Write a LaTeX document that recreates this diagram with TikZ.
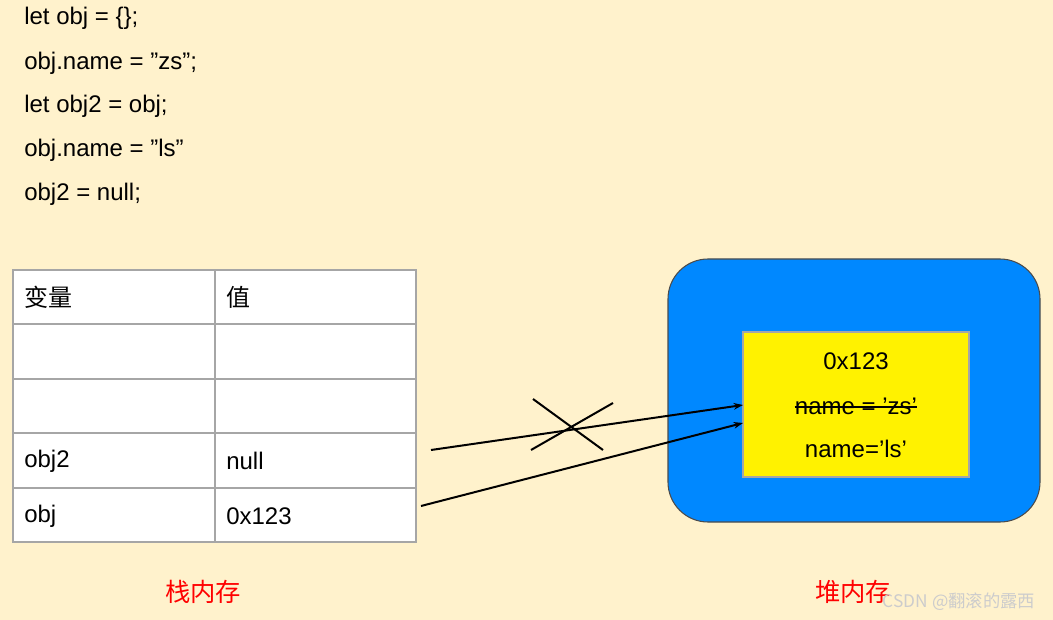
\documentclass[tikz,border=0pt]{standalone}
\usepackage{fontspec}
\setmainfont{Liberation Sans}
\newfontfamily\cjk{Noto Sans CJK SC}
\usetikzlibrary{arrows.meta}
\definecolor{bg}{HTML}{FFF2CC}
\definecolor{heap}{HTML}{0088FF}
\definecolor{cellb}{HTML}{A6A6A6}
\tikzset{
  code/.style={anchor=west,inner sep=0pt,font=\fontsize{18}{20}\selectfont},
  cell/.style={draw=cellb,fill=white,line width=0.8pt},
  ctext/.style={anchor=west,inner sep=0pt,font=\fontsize{18}{20}\selectfont},
  red/.style={text=red,font=\cjk\fontsize{19}{21}\selectfont},
  ptr/.style={line width=1.5pt,-{Stealth[length=7pt,width=5pt]}},
}
\begin{document}
\begin{tikzpicture}[x=0.75pt,y=-0.75pt]
\fill[bg] (0,0) rectangle (1053,620);
\useasboundingbox (0,0) rectangle (1053,620);
\node[code] (c1) at (24,18) {let obj = \{\};};
\node[code] (c2) at (24,63) {obj.name = "zs";};
\node[code] (c3) at (24,106) {let obj2 = obj;};
\node[code] (c4) at (24,150) {obj.name = "ls"};
\node[code] (c5) at (24,194) {obj2 = null;};
% table
\foreach \ya/\yb in {270/324,324/379,379/433,433/488,488/542}{
  \draw[cell] (13,\ya) rectangle (215,\yb);
  \draw[cell] (215,\ya) rectangle (416,\yb);
}
\node[ctext,font=\cjk\fontsize{18}{20}\selectfont] (h1) at (24,297) {变量};
\node[ctext,font=\cjk\fontsize{18}{20}\selectfont] (h2) at (226,297) {值};
\node[ctext] (r1) at (24,461) {obj2};
\node[ctext] (r2) at (226,461) {null};
\node[ctext] (r3) at (24,516) {obj};
\node[ctext] (r4) at (226,516) {0x123};
\coordinate (s1) at (431,450);
\coordinate (s2) at (421,506);
% heap
\draw[fill=heap,draw=black!70,line width=0.8pt,rounded corners=30pt] (668,259) rectangle (1040,522);
\draw[fill=yellow,draw=cellb,line width=0.8pt] (743,332) rectangle (969,477);
\node[ctext,anchor=center] (v1) at (856,361) {0x123};
\node[ctext,anchor=center] (v2) at (856,406) {name = 'zs'};
\draw[line width=1.2pt] (v2.west) ++(0,1) -- ([yshift=-0.75pt]v2.east);
\node[ctext,anchor=center] (v3) at (856,449) {name='ls'};
\coordinate (t1) at (743,405);
\coordinate (t2) at (743,423);
\draw[ptr] (s1) -- (t1);
\draw[ptr] (s2) -- (t2);
\draw[line width=1.5pt] (533,399) -- (603,450);
\draw[line width=1.5pt] (531,450) -- (613,403);
\node[red] (l1) at (203,592) {栈内存};
\node[red] (l2) at (853,592) {堆内存};
\node[text=white!60!gray,font=\cjk\fontsize{13}{15}\selectfont,anchor=east] (wm) at (1040,602) {CSDN @翻滚的露西};
\end{tikzpicture}
\end{document}
